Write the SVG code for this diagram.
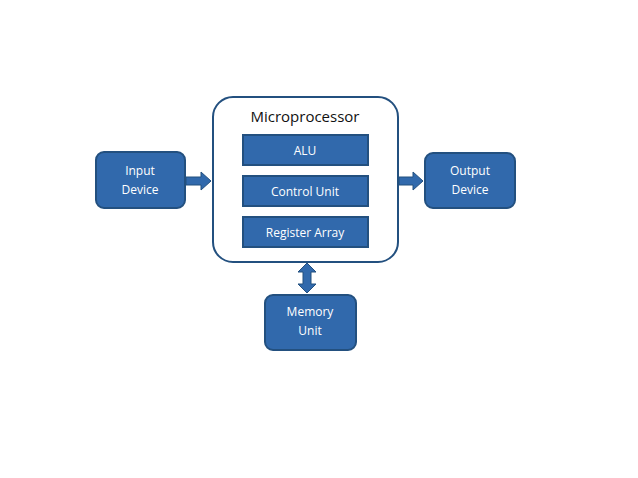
<svg xmlns="http://www.w3.org/2000/svg" width="638" height="478" viewBox="0 0 638 478">
<style>
.b{fill:#3169ac;stroke:#23507f;stroke-width:2}
.t{font-family:"Open Sans","Liberation Sans",sans-serif;font-size:12px;fill:#fff;text-anchor:middle}
.a{fill:#3169ac;stroke:#23507f;stroke-width:1}
</style>
<rect width="638" height="478" fill="#fff"/>
<g id="microprocessor">
<rect x="213" y="97" width="185" height="165" rx="20" fill="#fff" stroke="#23507f" stroke-width="2"/>
<text x="305" y="122" font-family="'Open Sans','Liberation Sans',sans-serif" font-size="15" fill="#111" text-anchor="middle">Microprocessor</text>
</g>
<g id="alu"><rect class="b" x="243" y="135" width="125" height="30"/><text class="t" x="305" y="155">ALU</text></g>
<g id="control"><rect class="b" x="243" y="176" width="125" height="30"/><text class="t" x="305" y="196">Control Unit</text></g>
<g id="register"><rect class="b" x="243" y="217" width="125" height="30"/><text class="t" x="305" y="237">Register Array</text></g>
<g id="input"><rect class="b" x="96" y="152" width="89" height="56" rx="8"/><text class="t" x="140" y="175">Input</text><text class="t" x="140" y="194">Device</text></g>
<g id="output"><rect class="b" x="425" y="153" width="90" height="55" rx="8"/><text class="t" x="470" y="175">Output</text><text class="t" x="470" y="194">Device</text></g>
<g id="memory"><rect class="b" x="265" y="295" width="91" height="55" rx="8"/><text class="t" x="310" y="316">Memory</text><text class="t" x="310" y="335">Unit</text></g>
<g id="connectors">
<path class="a" d="M186 177 H201 V172 L211 181 L201 190 V185 H186 Z"/>
<path class="a" d="M399 177 H413 V172 L423 181 L413 190 V185 H399 Z"/>
<path class="a" d="M307 263 L316 272 H311 V284 H316 L307 293 L298 284 H303 V272 H298 Z"/>
</g>
</svg>
